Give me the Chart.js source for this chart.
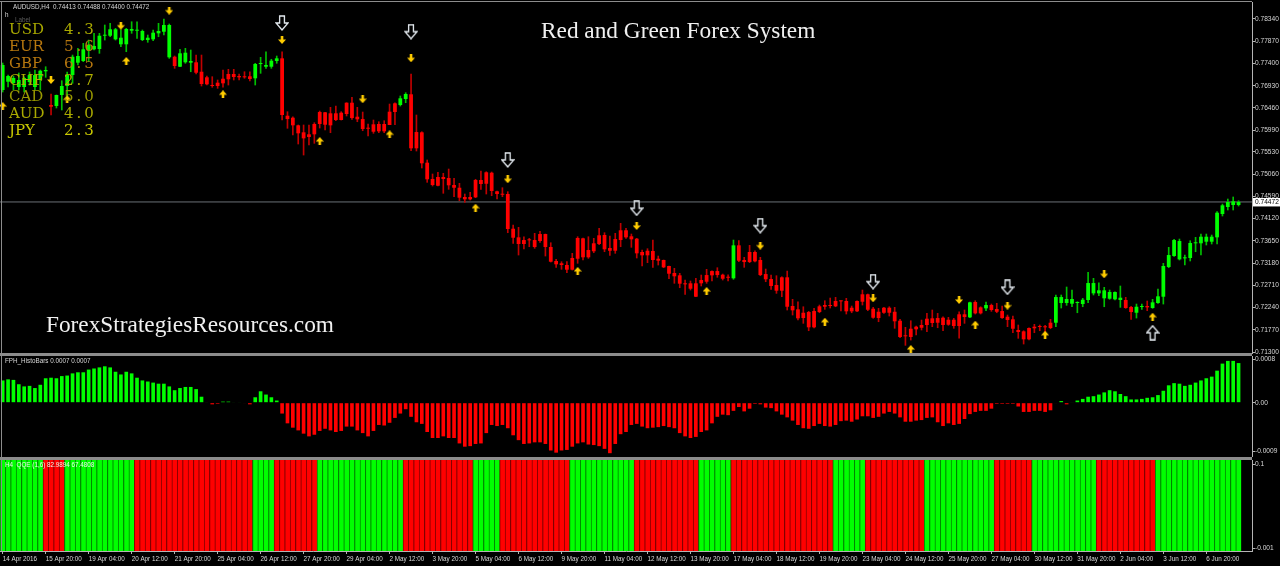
<!DOCTYPE html>
<html>
<head>
<meta charset="utf-8">
<title>Red and Green Forex System</title>
<script src="https://cdn.jsdelivr.net/npm/chart.js@4"></script>
<style>
  html, body { margin: 0; padding: 0; background: #000; width: 1280px; height: 566px; overflow: hidden; }
  canvas { position: absolute; left: 0; }
  #mainChart { top: 0; }
  #histChart { top: 356px; }
  #qqeChart { top: 460px; }
  .rule { position: absolute; background: #8c8c8c; }
  .txt { position: absolute; white-space: pre; }
  .small { font: 6.3px "Liberation Sans", sans-serif; color: #d8d8d8; }
  #title { left: 541px; top: 17px; font: 23.3px "Liberation Serif", serif; color: #f0f0f0; }
  #site { left: 46px; top: 311px; font: 23.3px "Liberation Serif", serif; color: #f0f0f0; }
  .cur { left: 9px; font: 15px "DejaVu Serif", serif; line-height: 18px; letter-spacing: 0; }
  .cur b { position: absolute; left: 55px; font-weight: normal; letter-spacing: 3px; }
</style>
</head>
<body>
<canvas id="mainChart" width="1280" height="362"></canvas>
<canvas id="histChart" width="1280" height="101"></canvas>
<canvas id="qqeChart" width="1280" height="106"></canvas>

<div class="rule" style="left:0;top:1px;width:1252px;height:1px"></div>
<div class="rule" style="left:1px;top:1px;width:1px;height:550px"></div>
<div class="rule" style="left:0;top:353px;width:1252px;height:2.5px"></div>
<div class="rule" style="left:0;top:457px;width:1252px;height:2.5px"></div>

<div class="txt" id="title">Red and Green Forex System</div>
<div class="txt" id="site">ForexStrategiesResources.com</div>
<div class="txt small" style="left:13px;top:3px">AUDUSD,H4  0.74413 0.74488 0.74400 0.74472</div>
<div class="txt small" style="left:5px;top:11px">h</div>
<div class="txt small" style="left:15px;top:16px;color:#5a5a5a">Label</div>
<div class="txt small" style="left:5px;top:357px">FPH_HistoBars 0.0007 0.0007</div>
<div class="txt small" style="left:5px;top:461px;color:#e8f8e8">H4  QQE (1,6) 82.9894 67.4808</div>
<div class="txt cur" style="top:20px;color:#a9a900">USD<b>4.3</b></div>
<div class="txt cur" style="top:37px;color:#b8780f">EUR<b>5.6</b></div>
<div class="txt cur" style="top:54px;color:#b8780f">GBP<b>6.5</b></div>
<div class="txt cur" style="top:71px;color:#b0b000">CHF<b>2.7</b></div>
<div class="txt cur" style="top:87px;color:#999900">CAD<b>5.0</b></div>
<div class="txt cur" style="top:104px;color:#aaaa00">AUD<b>4.0</b></div>
<div class="txt cur" style="top:121px;color:#c8c800">JPY<b>2.3</b></div>

<script>
// date labels, one every 8 bars
const dateLabels = ['14 Apr 2016', '15 Apr 20:00', '19 Apr 04:00', '20 Apr 12:00', '21 Apr 20:00', '25 Apr 04:00',
    '26 Apr 12:00', '27 Apr 20:00', '29 Apr 04:00', '2 May 12:00', '3 May 20:00', '5 May 04:00', '6 May 12:00',
    '9 May 20:00', '11 May 04:00', '12 May 12:00', '13 May 20:00', '17 May 04:00', '18 May 12:00', '19 May 20:00',
    '23 May 04:00', '24 May 12:00', '25 May 20:00', '27 May 04:00', '30 May 12:00', '31 May 20:00', '2 Jun 04:00',
    '3 Jun 12:00', '6 Jun 20:00'];

const priceTicks = [0.78340, 0.77870, 0.77400, 0.76930, 0.76460, 0.75990, 0.75530, 0.75060, 0.74590, 0.74120,
    0.73650, 0.73180, 0.72710, 0.72240, 0.71770, 0.71300];
const histTicks = [0.0008, 0, -0.0009];
const qqeTicks = [0.1, -0.001];
const bidPrice = 0.74472;

// AUDUSD H4 candles
const opens = [
    .76838, .77014, .76987, .76902, .76902, .77008, .76902, .77050, .77234, .76521,
    .76500, .76733, .76923, .77155, .77416, .77452, .77669, .77699, .77705, .77986,
    .77986, .77910, .77805, .77805, .78092, .78092, .77895, .77895, .77910, .78037,
    .78071, .77530, .77542, .77331, .77424, .77416, .77424, .77225, .77107, .76944,
    .76993, .77077, .77177, .77177, .77134, .77120, .77128, .77086, .77388, .77331,
    .77331, .77452, .77508, .76295, .76253, .76092, .75944, .75902, .76120, .76373,
    .76367, .76346, .76346, .76359, .76570, .76570, .76274, .76225, .76041, .76113,
    .76120, .76120, .76380, .76557, .76521, .76648, .76748, .75950, .75944, .75302,
    .74957, .74999, .74999, .74978, .74830, .74773, .74577, .74577, .74936, .74936,
    .75099, .75090, .74697, .74646, .74640, .73906, .73724, .73667, .73682, .73667,
    .73794, .73794, .73520, .73224, .73175, .73139, .73287, .73710, .73703, .73456,
    .73598, .73767, .73773, .73498, .73688, .73873, .73873, .73746, .73695, .73414,
    .73441, .73435, .73272, .73245, .73118, .72970, .72921, .72752, .72752, .72752,
    .72822, .72927, .73011, .73011, .72934, .72885, .72858, .73555, .73245, .73414,
    .73414, .73245, .72948, .72843, .72716, .72879, .72879, .72272, .72202, .72130,
    .72145, .72166, .72266, .72293, .72293, .72378, .72378, .72378, .72236, .72378,
    .72520, .72520, .72215, .72151, .72236, .72236, .72151, .71961, .71644, .71792,
    .71835, .71871, .72004, .72012, .72018, .72025, .71982, .71982, .72097, .72097,
    .72033, .72357, .72244, .72223, .72293, .72209, .72166, .72046, .71991, .71765,
    .71737, .71807, .71835, .71843, .71835, .71919, .71919, .72336, .72336, .72321,
    .72336, .72314, .72399, .72540, .72540, .72435, .72427, .72414, .72399, .72399,
    .72251, .72130, .72251, .72272, .72230, .72336, .72469, .73097, .73329, .73259,
    .73280, .73287, .73598, .73598, .73632, .73632, .73724, .74217, .74365, .74407, .74407];
const highs = [
    .77409, .77155, .77134, .77198, .77113, .77219, .77261, .77261, .77331, .76754,
    .76733, .77035, .77219, .77578, .77720, .77826, .77895, .78037, .78037, .78213,
    .78248, .78143, .78107, .78143, .78282, .78282, .78107, .78001, .78107, .78248,
    .78339, .78234, .77557, .77699, .77720, .77684, .77578, .77578, .77134, .77120,
    .77050, .77261, .77276, .77276, .77177, .77225, .77225, .77403, .77530, .77648,
    .77488, .77557, .77648, .76380, .76274, .76099, .76099, .76099, .76147, .76394,
    .76367, .76473, .76500, .76380, .76570, .76684, .76473, .76373, .76120, .76204,
    .76168, .76189, .76542, .76570, .76712, .76781, .77177, .76310, .75957, .75359,
    .75063, .75099, .75078, .75168, .74972, .74866, .74640, .74676, .74951, .75126,
    .75111, .75105, .74703, .74773, .74689, .73984, .73936, .73737, .73703, .73809,
    .73851, .73794, .73610, .73259, .73209, .73209, .73386, .73737, .73710, .73737,
    .73703, .73915, .73822, .73752, .73809, .74020, .73915, .73794, .73703, .73456,
    .73484, .73667, .73329, .73245, .73118, .73069, .72963, .72822, .72801, .72858,
    .72927, .73048, .73018, .73082, .72948, .72934, .73667, .73653, .73302, .73555,
    .73441, .73302, .73054, .72927, .72913, .72891, .73011, .72414, .72363, .72257,
    .72160, .72223, .72293, .72384, .72441, .72456, .72384, .72435, .72272, .72384,
    .72610, .72526, .72244, .72223, .72244, .72257, .72244, .71991, .71822, .71961,
    .71849, .71976, .72117, .72188, .72117, .72046, .72033, .72012, .72151, .72188,
    .72357, .72384, .72257, .72357, .72314, .72329, .72272, .72082, .72061, .71871,
    .71750, .71813, .71885, .71871, .71864, .71991, .72505, .72505, .72674, .72610,
    .72363, .72435, .72985, .72858, .72765, .72667, .72610, .72574, .72695, .72456,
    .72266, .72314, .72314, .72378, .72414, .72632, .73175, .73513, .73682, .73688,
    .73350, .73653, .73724, .73794, .73794, .73773, .74266, .74428, .74534, .74577, .74498];
const lows = [
    .76796, .76902, .76838, .76838, .76796, .76944, .76838, .76838, .77107, .76310,
    .76458, .76416, .76627, .76980, .77367, .77437, .77437, .77684, .77614, .77895,
    .77965, .77895, .77754, .77648, .78037, .77931, .77881, .77847, .77881, .77965,
    .78001, .77508, .77297, .77331, .77403, .77225, .77177, .76923, .76944, .76896,
    .76874, .76896, .76944, .77050, .77050, .77086, .77029, .76944, .77191, .77297,
    .77297, .77403, .76204, .76029, .75887, .75697, .75464, .75676, .75712, .76035,
    .75993, .75936, .76189, .76204, .76289, .76219, .76168, .75978, .75866, .75923,
    .75936, .75936, .76105, .76105, .76500, .76570, .75555, .75549, .75190, .74887,
    .74809, .74809, .74655, .74739, .74583, .74498, .74464, .74513, .74562, .74739,
    .74640, .74604, .74534, .74583, .73822, .73598, .73350, .73477, .73526, .73492,
    .73619, .73329, .73202, .73090, .73048, .72976, .73033, .73175, .73245, .73280,
    .73399, .73568, .73420, .73344, .73386, .73526, .73703, .73513, .73287, .73118,
    .73188, .73090, .73139, .73082, .72849, .72752, .72659, .72520, .72610, .72469,
    .72695, .72752, .72801, .72879, .72822, .72801, .72837, .73209, .73090, .73188,
    .73202, .72913, .72786, .72625, .72540, .72469, .72188, .72082, .71976, .71906,
    .71750, .71807, .72130, .72202, .72230, .72257, .72166, .72103, .72130, .72151,
    .72293, .72173, .72012, .71940, .72117, .72061, .71801, .71602, .71441, .71553,
    .71659, .71765, .71729, .71835, .71813, .71750, .71864, .71801, .71595, .71906,
    .72025, .72103, .72103, .72173, .72160, .72130, .72012, .71835, .71708, .71589,
    .71469, .71553, .71708, .71750, .71695, .71792, .71835, .72230, .72287, .72257,
    .72130, .72257, .72342, .72505, .72490, .72257, .72414, .72399, .72244, .72223,
    .71991, .72018, .72202, .72173, .72223, .72329, .72314, .73082, .73323, .73245,
    .73139, .73224, .73420, .73350, .73562, .73583, .73583, .74175, .74302, .74302, .74386];
const closes = [
    .77367, .77134, .77092, .77050, .77092, .77155, .77155, .77246, .77261, .76485,
    .76733, .76923, .77155, .77542, .77557, .77699, .77790, .77769, .77986, .78001,
    .78122, .78122, .77944, .78128, .78128, .78107, .78086, .77944, .78050, .78086,
    .78213, .78213, .77346, .77614, .77627, .77452, .77204, .76965, .76959, .76923,
    .76923, .76980, .77065, .77113, .77107, .77107, .77071, .77388, .77403, .77367,
    .77458, .77508, .76310, .76225, .76092, .75923, .75817, .75845, .75902, .76120,
    .76105, .76092, .76204, .76204, .76331, .76246, .76219, .76014, .76020, .75957,
    .75965, .75965, .76099, .76373, .76663, .76754, .75606, .75606, .75289, .74951,
    .74830, .74815, .74957, .74824, .74773, .74562, .74528, .74528, .74570, .74851,
    .74857, .74703, .74640, .74625, .73900, .73716, .73583, .73583, .73661, .73520,
    .73646, .73520, .73209, .73154, .73139, .73040, .73040, .73272, .73302, .73302,
    .73429, .73583, .73471, .73441, .73441, .73667, .73724, .73682, .73386, .73344,
    .73344, .73245, .73230, .73090, .72955, .72900, .72744, .72731, .72638, .72469,
    .72752, .72786, .72921, .72927, .72849, .72870, .73555, .73230, .73202, .73202,
    .73217, .72927, .72837, .72695, .72596, .72596, .72257, .72181, .72012, .72018,
    .71822, .71822, .72145, .72257, .72272, .72266, .72371, .72160, .72160, .72160,
    .72363, .72194, .72025, .72018, .72130, .72130, .71949, .71617, .71632, .71617,
    .71780, .71813, .71871, .71913, .71919, .71871, .71877, .71849, .71849, .72040,
    .72350, .72117, .72117, .72293, .72188, .72151, .72018, .71976, .71792, .71723,
    .71568, .71568, .71801, .71828, .71822, .71807, .72462, .72462, .72420, .72420,
    .72350, .72405, .72758, .72758, .72604, .72604, .72568, .72568, .72448, .72230,
    .72145, .72257, .72266, .72244, .72350, .72477, .73118, .73350, .73667, .73646,
    .73293, .73604, .73619, .73737, .73737, .73737, .74245, .74401, .74471, .74485, .74472];

// FPH_HistoBars indicator
const histValues = [
    .00041, .00043, .00042, .00034, .00030, .00031, .00027, .00033, .00045, .00046,
    .00045, .00049, .00050, .00054, .00056, .00056, .00061, .00063, .00065, .00067,
    .00065, .00057, .00052, .00057, .00054, .00046, .00041, .00039, .00037, .00035,
    .00035, .00030, .00023, .00027, .00029, .00029, .00025, .00011, .00001, -.00003,
    -.00002, .00002, .00002, .00001, .00001, -.00001, -.00003, .00010, .00021, .00015,
    .00010, .00004, -.00020, -.00038, -.00046, -.00051, -.00057, -.00062, -.00059, -.00052,
    -.00048, -.00051, -.00054, -.00052, -.00044, -.00044, -.00051, -.00056, -.00062, -.00052,
    -.00041, -.00042, -.00037, -.00028, -.00020, -.00012, -.00026, -.00036, -.00039, -.00054,
    -.00065, -.00065, -.00062, -.00065, -.00065, -.00075, -.00081, -.00080, -.00076, -.00075,
    -.00056, -.00041, -.00043, -.00041, -.00047, -.00060, -.00069, -.00076, -.00075, -.00073,
    -.00073, -.00076, -.00088, -.00092, -.00088, -.00087, -.00081, -.00075, -.00073, -.00077,
    -.00078, -.00080, -.00085, -.00093, -.00076, -.00058, -.00054, -.00041, -.00039, -.00044,
    -.00047, -.00046, -.00045, -.00043, -.00045, -.00047, -.00056, -.00062, -.00065, -.00063,
    -.00054, -.00051, -.00038, -.00026, -.00022, -.00023, -.00015, -.00008, -.00016, -.00011,
    -.00002, -.00003, -.00009, -.00010, -.00016, -.00022, -.00027, -.00033, -.00041, -.00047,
    -.00048, -.00043, -.00039, -.00043, -.00044, -.00041, -.00034, -.00033, -.00035, -.00031,
    -.00025, -.00025, -.00028, -.00026, -.00020, -.00017, -.00020, -.00027, -.00035, -.00035,
    -.00033, -.00032, -.00028, -.00027, -.00036, -.00043, -.00038, -.00041, -.00039, -.00030,
    -.00021, -.00017, -.00015, -.00015, -.00011, -.00002, -.00002, -.00002, -.00002, -.00007,
    -.00017, -.00017, -.00015, -.00015, -.00017, -.00014, -.00001, .00003, -.00003, .00001,
    .00004, .00007, .00011, .00012, .00015, .00019, .00023, .00021, .00016, .00012,
    .00006, .00006, .00007, .00009, .00010, .00014, .00022, .00032, .00036, .00035,
    .00031, .00033, .00037, .00041, .00045, .00048, .00059, .00072, .00077, .00077, .00073];

// QQE state as bar counts, alternating up / down, starting with up
const qqeRuns = [8, 4, 13, 22, 4, 8, 16, 13, 5, 13, 12, 12, 6, 19, 6, 11, 13, 7, 12, 11, 16];

// signal arrows: bar number and price
const smallDownBars = [9, 22, 31, 52, 67, 76, 94, 118, 141, 162, 178, 187, 205];
const smallDownPrices = [.77050, .78198, .78515, .77895, .76642, .77508, .74951, .73963, .73547, .72435, .72399, .72279, .72942];
const smallUpBars = [0, 12, 23, 41, 59, 72, 88, 107, 131, 153, 169, 181, 194, 214];
const smallUpPrices = [.76500, .76642, .77452, .76748, .75760, .75902, .74350, .73014, .72589, .71940, .71363, .71877, .71665, .72046];
const bigDownBars = [52, 76, 94, 118, 141, 162, 187];
const bigDownPrices = [.78255, .78071, .75359, .74337, .73970, .72786, .72667];
const bigUpBars = [214];
const bigUpPrices = [.71708];

const GREEN = '#00ff00', RED = '#ff0000';
const EMPTY_BARS = 2; // empty room at the right edge of the chart
const AXIS_COLOR = '#b4b4b4', TICK_COLOR = '#d8d8d8';
const TICK_FONT = { family: 'Liberation Sans', size: 6.3 };
const PRICE_FONT = { family: 'Liberation Sans', size: 6.6 };

const barCount = closes.length;
const categories = [];
for (let i = 0; i < barCount + EMPTY_BARS; i++) {
    categories.push(i % 8 === 0 && dateLabels[i / 8] ? dateLabels[i / 8] : '');
}

function seriesFromBars(bars, prices) {
    const out = new Array(barCount).fill(null);
    bars.forEach((b, k) => { out[b] = prices[k]; });
    return out;
}

// arrow pictures for the point styles, they all point up and get rotated for down
function smallArrow() {
    const c = document.createElement('canvas');
    c.width = 8; c.height = 8;
    const g = c.getContext('2d');
    g.fillStyle = '#ffcc00';
    g.beginPath();
    g.moveTo(4, 0); g.lineTo(8, 4.6); g.lineTo(5.3, 4.6); g.lineTo(5.3, 8); g.lineTo(2.7, 8); g.lineTo(2.7, 4.6); g.lineTo(0, 4.6);
    g.closePath();
    g.fill();
    return c;
}
function bigArrow() {
    const c = document.createElement('canvas');
    c.width = 14; c.height = 16;
    const g = c.getContext('2d');
    g.strokeStyle = '#e8eef4';
    g.lineWidth = 1.3;
    g.fillStyle = '#000';
    g.beginPath();
    g.moveTo(7, 1); g.lineTo(13, 8); g.lineTo(9.4, 8); g.lineTo(9.4, 15); g.lineTo(4.6, 15); g.lineTo(4.6, 8); g.lineTo(1, 8);
    g.closePath();
    g.fill();
    g.stroke();
    return c;
}

// right hand price axis, same width in all three panels
function rightAxis(min, max, values, format) {
    return {
        type: 'linear',
        position: 'right',
        min: min,
        max: max,
        afterFit: s => {
            s.width = 28;
            // no room kept for the first and last label, they may hang over the panel edge
            s.paddingTop = 0;
            s.paddingBottom = 0;
        },
        afterBuildTicks: s => { s.ticks = values.map(v => ({ value: v })); },
        border: { display: true, color: AXIS_COLOR, width: 1 },
        grid: { drawOnChartArea: false, drawTicks: true, tickLength: 3, color: AXIS_COLOR },
        ticks: { autoSkip: false, color: TICK_COLOR, font: PRICE_FONT, padding: 0, callback: format }
    };
}

function hiddenX() {
    return { type: 'category', offset: true, display: false };
}

const commonOptions = {
    responsive: false,
    animation: false,
    devicePixelRatio: 1,
    layout: { autoPadding: false, padding: 0 },
    plugins: { legend: { display: false }, tooltip: { enabled: false } },
    events: []
};

// grey line at the last price plus its white box on the axis
const bidLinePlugin = {
    id: 'bidLine',
    beforeDatasetsDraw(chart) {
        const y = chart.scales.y.getPixelForValue(bidPrice);
        const g = chart.ctx;
        g.save();
        g.strokeStyle = '#6a7076';
        g.lineWidth = 1;
        g.beginPath();
        g.moveTo(0, y);
        g.lineTo(chart.chartArea.right, y);
        g.stroke();
        g.restore();
    },
    afterDraw(chart) {
        const y = chart.scales.y.getPixelForValue(bidPrice);
        const g = chart.ctx;
        g.save();
        g.fillStyle = '#fff';
        g.fillRect(chart.chartArea.right + 1, y - 4, 28, 8.5);
        g.fillStyle = '#000';
        g.font = '6.6px "Liberation Sans"';
        g.textBaseline = 'middle';
        g.fillText(bidPrice.toFixed(5), chart.chartArea.right + 3, y + 0.5);
        g.restore();
    }
};

function arrowDataset(bars, prices, picture, rotation) {
    return {
        type: 'line',
        showLine: false,
        data: seriesFromBars(bars, prices),
        pointStyle: picture,
        pointRadius: 5,
        pointRotation: rotation,
        clip: false,
        order: 0
    };
}

const isUp = closes.map((c, i) => c >= opens[i]);
const small = smallArrow(), big = bigArrow();

new Chart(document.getElementById('mainChart'), {
    type: 'bar',
    data: {
        labels: categories,
        datasets: [{
            // bodies
            data: opens.map((o, i) => [o, closes[i]]),
            backgroundColor: isUp.map(u => u ? GREEN : RED),
            categoryPercentage: 1,
            barPercentage: 0.7,
            grouped: false,
            minBarLength: 1,
            order: 1
        }, {
            // wicks
            data: lows.map((l, i) => [l, highs[i]]),
            backgroundColor: isUp.map(u => u ? '#00c000' : '#c00000'),
            barThickness: 1,
            grouped: false,
            order: 2
        },
        arrowDataset(smallDownBars, smallDownPrices, small, 180),
        arrowDataset(smallUpBars, smallUpPrices, small, 0),
        arrowDataset(bigDownBars, bigDownPrices, big, 180),
        arrowDataset(bigUpBars, bigUpPrices, big, 0)]
    },
    options: Object.assign({}, commonOptions, {
        layout: { autoPadding: false, padding: { top: 2, bottom: 9, left: 0, right: 0 } },
        scales: {
            x: hiddenX(),
            y: rightAxis(0.71279, 0.78699, priceTicks, v => v.toFixed(5))
        }
    }),
    plugins: [bidLinePlugin]
});

new Chart(document.getElementById('histChart'), {
    type: 'bar',
    data: {
        labels: categories,
        datasets: [{
            data: histValues,
            backgroundColor: histValues.map(v => v >= 0 ? GREEN : RED),
            categoryPercentage: 1,
            barPercentage: 0.68
        }]
    },
    options: Object.assign({}, commonOptions, {
        scales: {
            x: hiddenX(),
            y: rightAxis(-0.00100, 0.00086, histTicks, v => v === 0 ? '0.00' : v.toFixed(4))
        }
    })
});

const qqeUp = [];
qqeRuns.forEach((count, k) => {
    for (let i = 0; i < count; i++) qqeUp.push(k % 2 === 0);
});
const QQE_LOW = -0.0046, QQE_HIGH = 0.105;

new Chart(document.getElementById('qqeChart'), {
    type: 'bar',
    data: {
        labels: categories,
        datasets: [{
            data: qqeUp.map(() => [QQE_LOW, QQE_HIGH]),
            backgroundColor: qqeUp.map(u => u ? GREEN : RED),
            borderColor: qqeUp.map(u => u ? '#008c00' : '#8c0000'),
            borderWidth: { left: 1, right: 0, top: 0, bottom: 0 },
            borderSkipped: false,
            categoryPercentage: 1,
            barPercentage: 1
        }]
    },
    options: Object.assign({}, commonOptions, {
        scales: {
            x: {
                type: 'category',
                offset: true,
                afterFit: s => { s.height = 15; s.paddingLeft = 0; s.paddingRight = 0; },
                afterBuildTicks: s => { s.ticks = s.ticks.filter(t => categories[t.value] !== ''); },
                border: { display: true, color: AXIS_COLOR, width: 1 },
                grid: { offset: false, drawOnChartArea: false, drawTicks: true, tickLength: 3, color: AXIS_COLOR },
                ticks: { autoSkip: false, maxRotation: 0, align: 'start', color: TICK_COLOR, font: TICK_FONT, padding: 1 }
            },
            y: rightAxis(QQE_LOW, QQE_HIGH, qqeTicks, v => String(v))
        }
    })
});
</script>
</body>
</html>
